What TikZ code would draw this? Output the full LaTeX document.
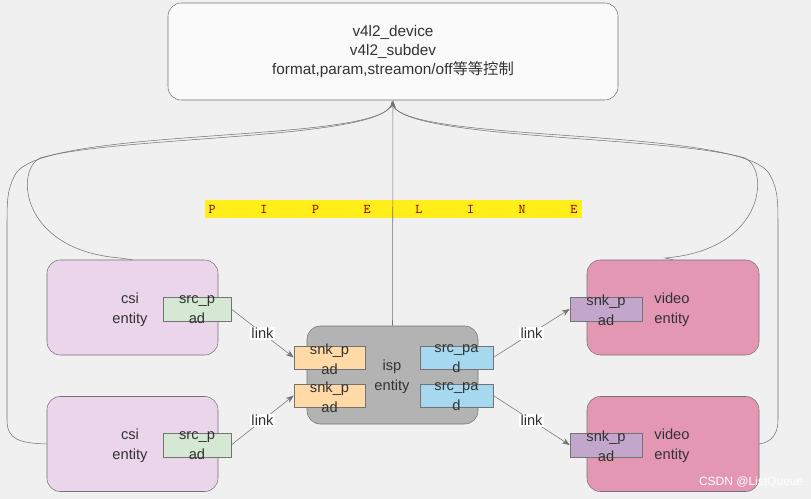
\documentclass[tikz,border=0pt]{standalone}
\usepackage{fontspec}
\usetikzlibrary{arrows.meta}
\setmainfont{Liberation Sans}
\newfontfamily\cjk{Noto Sans CJK SC}
\begin{document}
\begin{tikzpicture}[x=0.75pt,y=-0.75pt,
  every node/.style={font=\fontsize{11}{15}\selectfont,text=black!80},
  ent/.style={draw=black!55,rounded corners=10pt,inner sep=0pt},
  pad/.style={draw=black!55,inner sep=0pt},
  lbl/.style={fill=white,inner sep=1pt,font=\fontsize{11}{12}\selectfont},
  arr/.style={draw=black!55,-{Stealth[length=6pt]}},
  cv/.style={draw=black!55}]
\definecolor{bg}{HTML}{F0F0F0}
\definecolor{csic}{HTML}{EAD5EA}
\definecolor{srcg}{HTML}{D5E8D4}
\definecolor{ispc}{HTML}{B3B3B3}
\definecolor{snko}{HTML}{FFD9A6}
\definecolor{srcb}{HTML}{A6D8F0}
\definecolor{vid}{HTML}{E397B3}
\definecolor{snkp}{HTML}{C3A6CB}
\fill[bg] (0,0) rectangle (811,499);
\useasboundingbox (0,0) rectangle (811,499);
\node[ent,fill=white!98!black,minimum width=337.5pt,minimum height=72.75pt,align=center,font=\fontsize{11.5}{14}\selectfont] (top) at (393,51.5) {v4l2\_device\\v4l2\_subdev\\format,param,streamon/off{\cjk 等等控制}};
\fill[yellow!95!orange!90!white] (205,200) rectangle (582,218);
\node[font=\ttfamily\fontsize{10}{11}\selectfont,text=red!50!black,inner sep=0] (pl) at (393,209) {P\hspace{3.35em}I\hspace{3.35em}P\hspace{3.35em}E\hspace{3.35em}L\hspace{3.35em}I\hspace{3.35em}N\hspace{3.35em}E};
% csi
\node[ent,fill=csic,minimum width=128.25pt,minimum height=71.25pt] (csi1) at (132.5,307.5) {};
\node[ent,fill=csic,minimum width=128.25pt,minimum height=71.25pt] (csi2) at (132.5,444) {};
\node[align=center] at (130,310) {csi\\entity};
\node[align=center] at (130,446) {csi\\entity};
\node[pad,fill=srcg,minimum width=51pt,minimum height=18pt] (s1) at (197,309) {};
\node[pad,fill=srcg,minimum width=51pt,minimum height=18pt] (s2) at (197,445) {};
\node[align=center] at (197,310) {src\_p\\ad};
\node[align=center] at (197,446) {src\_p\\ad};
% video
\node[ent,fill=vid,minimum width=129pt,minimum height=71.25pt] (v1) at (673,307.5) {};
\node[ent,fill=vid,minimum width=129pt,minimum height=71.25pt] (v2) at (673,444) {};
\node[align=center] at (672,310) {video\\entity};
\node[align=center] at (672,446) {video\\entity};
\node[pad,fill=snkp,minimum width=54pt,minimum height=18pt] (k1) at (606,309) {};
\node[pad,fill=snkp,minimum width=54pt,minimum height=18pt] (k2) at (606,445) {};
\node[align=center] at (606,310) {snk\_p\\ad};
\node[align=center] at (606,446) {snk\_p\\ad};
% isp
\node[ent,fill=ispc,minimum width=128.25pt,minimum height=73.5pt] (isp) at (392.5,375) {};
\node[align=center] at (392,377) {isp\\entity};
\node[pad,fill=snko,minimum width=53.25pt,minimum height=17.25pt] (i1) at (329.5,357.5) {};
\node[pad,fill=snko,minimum width=53.25pt,minimum height=17.25pt] (i2) at (329.5,395.5) {};
\node[pad,fill=srcb,minimum width=54.75pt,minimum height=17.25pt] (o1) at (456.5,357.5) {};
\node[pad,fill=srcb,minimum width=54.75pt,minimum height=17.25pt] (o2) at (456.5,395.5) {};
\node[align=center] at (329.5,359) {snk\_p\\ad};
\node[align=center] at (329.5,397) {snk\_p\\ad};
\node[align=center] at (456.5,359) {src\_pa\\d};
\node[align=center] at (456.5,397) {src\_pa\\d};
% links
\draw[arr] (s1.east) -- node[lbl]{link} (i1.west);
\draw[arr] (s2.east) -- node[lbl]{link} (i2.west);
\draw[arr] (o1.east) -- node[lbl]{link} (k1.west);
\draw[arr] (o2.east) -- node[lbl]{link} (k2.west);
% main arrow
\coordinate (tip) at (392,102);
\draw[arr] (isp.north) -- (top.south);
% curves
\draw[cv] (tip) .. controls (392,140) and (120,135) .. (40,158) .. controls (15,170) and (20,250) .. (120,258) -- (csi1.north);
\draw[cv] (tip) .. controls (392,145) and (40,125) .. (15,175) .. controls (7,190) and (7,200) .. (7,230) -- (7,420) .. controls (7,440) and (20,443) .. (csi2.west);
\draw[cv] (tip) .. controls (392,140) and (665,135) .. (745,158) .. controls (770,170) and (765,250) .. (665,258) -- (v1.north);
\draw[cv] (tip) .. controls (392,145) and (745,125) .. (770,175) .. controls (778,190) and (778,200) .. (778,230) -- (778,420) .. controls (778,440) and (765,443) .. (v2.east);
\node[text=white,font=\fontsize{9}{10}\selectfont,anchor=south east] at (808,492) {CSDN @ListQueue};
\end{tikzpicture}
\end{document}
